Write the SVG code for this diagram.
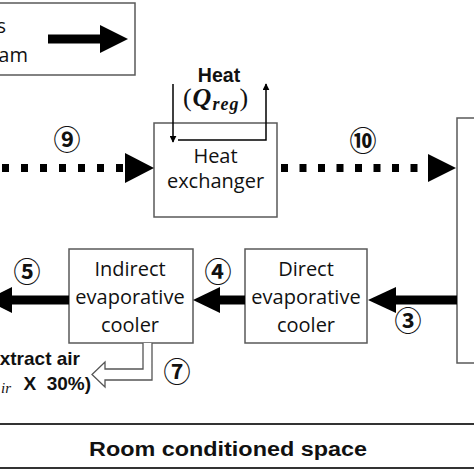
<svg xmlns="http://www.w3.org/2000/svg" width="474" height="474" viewBox="0 0 474 474">
<defs>
<style>
.box{fill:#fff;stroke:#595959;stroke-width:1.5}
.lbl{font-family:"Open Sans","Liberation Sans",sans-serif;font-size:20px;fill:#111;text-anchor:middle}
.bold{font-family:"Liberation Sans",Arial,sans-serif;font-weight:bold;fill:#111}
.num{font-family:"Noto Sans CJK JP","DejaVu Sans",sans-serif;font-weight:bold;font-size:27px;fill:#111;text-anchor:middle}
.dot{stroke:#000;stroke-width:8;fill:none}
.thick{stroke:#000;stroke-width:9;fill:none}
.thin{stroke:#000;stroke-width:1.5;fill:none}
.math{font-family:"Liberation Serif","DejaVu Serif",serif;fill:#111}
</style>
<marker id="ah" viewBox="0 0 10 10" refX="9" refY="5" markerWidth="7" markerHeight="7" markerUnits="userSpaceOnUse" orient="auto">
<path d="M0,0 L10,5 L0,10 z" fill="#000"/>
</marker>
</defs>
<rect width="474" height="474" fill="#fff"/>

<g id="legend">
<rect class="box" x="-20" y="3" width="155" height="72"/>
<text class="lbl" x="6" y="33" style="text-anchor:end">s</text>
<text class="lbl" x="28" y="62" style="text-anchor:end">am</text>
<line x1="48" y1="39" x2="101" y2="39" class="thick"/>
<polygon points="100,25 128,39 100,53" fill="#000"/>
</g>

<g id="heat-exchanger">
<rect class="box" x="154" y="123" width="123" height="94"/>
<text class="lbl" x="215.5" y="163">Heat</text>
<text class="lbl" x="215.5" y="188">exchanger</text>
</g>

<g id="heat-label">
<text class="bold" x="219" y="82" font-size="19.5" text-anchor="middle">Heat</text>
<text class="math" x="216" y="106" font-size="26" text-anchor="middle" letter-spacing="1">(<tspan font-weight="bold" font-style="italic">Q</tspan><tspan font-weight="bold" font-style="italic" font-size="18" dy="4">reg</tspan><tspan dy="-4">)</tspan></text>
</g>

<g id="direct-evaporative-cooler">
<rect class="box" x="245" y="249" width="122" height="94"/>
<text class="lbl" x="306" y="276">Direct</text>
<text class="lbl" x="306" y="304">evaporative</text>
<text class="lbl" x="306" y="332">cooler</text>
</g>

<g id="indirect-evaporative-cooler">
<rect class="box" x="69" y="249" width="124" height="94"/>
<text class="lbl" x="130" y="276">Indirect</text>
<text class="lbl" x="130" y="304">evaporative</text>
<text class="lbl" x="130" y="332">cooler</text>
</g>

<g id="right-unit">
<rect class="box" x="457" y="118" width="40" height="245"/>
</g>

<g id="room">
<line x1="0" y1="424" x2="474" y2="424" stroke="#333" stroke-width="2"/>
<line x1="0" y1="468" x2="474" y2="468" stroke="#333" stroke-width="2"/>
<text class="bold" x="89" y="456" font-size="20" textLength="278" lengthAdjust="spacingAndGlyphs">Room conditioned space</text>
</g>

<g id="connectors">
<line class="dot" x1="2" y1="168" x2="126" y2="168" stroke-dasharray="7 12"/>
<polygon points="125,153 154,168 125,183" fill="#000"/>
<line class="dot" x1="281" y1="168" x2="428" y2="168" stroke-dasharray="7 11.5"/>
<polygon points="428,154 456,168 428,182" fill="#000"/>
<line class="thick" x1="457" y1="300" x2="395" y2="300"/>
<polygon points="396,287 368,300 396,313" fill="#000"/>
<line class="thick" x1="245" y1="300" x2="219" y2="300"/>
<polygon points="220,287 193,300 220,313" fill="#000"/>
<line class="thick" x1="69" y1="300" x2="10" y2="300"/>
<polygon points="12,287 -14,300 12,313" fill="#000"/>
<line class="thin" x1="173" y1="84" x2="173" y2="142" marker-end="url(#ah)"/>
<polyline class="thin" points="178,140 266,140 266,84" marker-end="url(#ah)"/>
<path d="M143,343 V369 H105 V362 L92,374.5 L105,387 V380 H152 V343" fill="#fff" stroke="#555" stroke-width="1.3"/>
</g>

<g id="labels">
<text class="num" x="67" y="149.5">⑨</text>
<text class="num" x="363" y="150.5">⑩</text>
<text class="num" x="408" y="330.5">③</text>
<text class="num" x="218" y="281.5">④</text>
<text class="num" x="27" y="281.5">⑤</text>
<text class="num" x="177" y="381.5">⑦</text>
<text class="bold" x="80" y="365" font-size="19" text-anchor="end">xtract air</text>
<text class="math" x="1" y="393" font-size="15" font-style="italic">ir</text>
<text class="bold" x="91" y="390" font-size="19" text-anchor="end">X&#160; 30%)</text>
</g>
</svg>
